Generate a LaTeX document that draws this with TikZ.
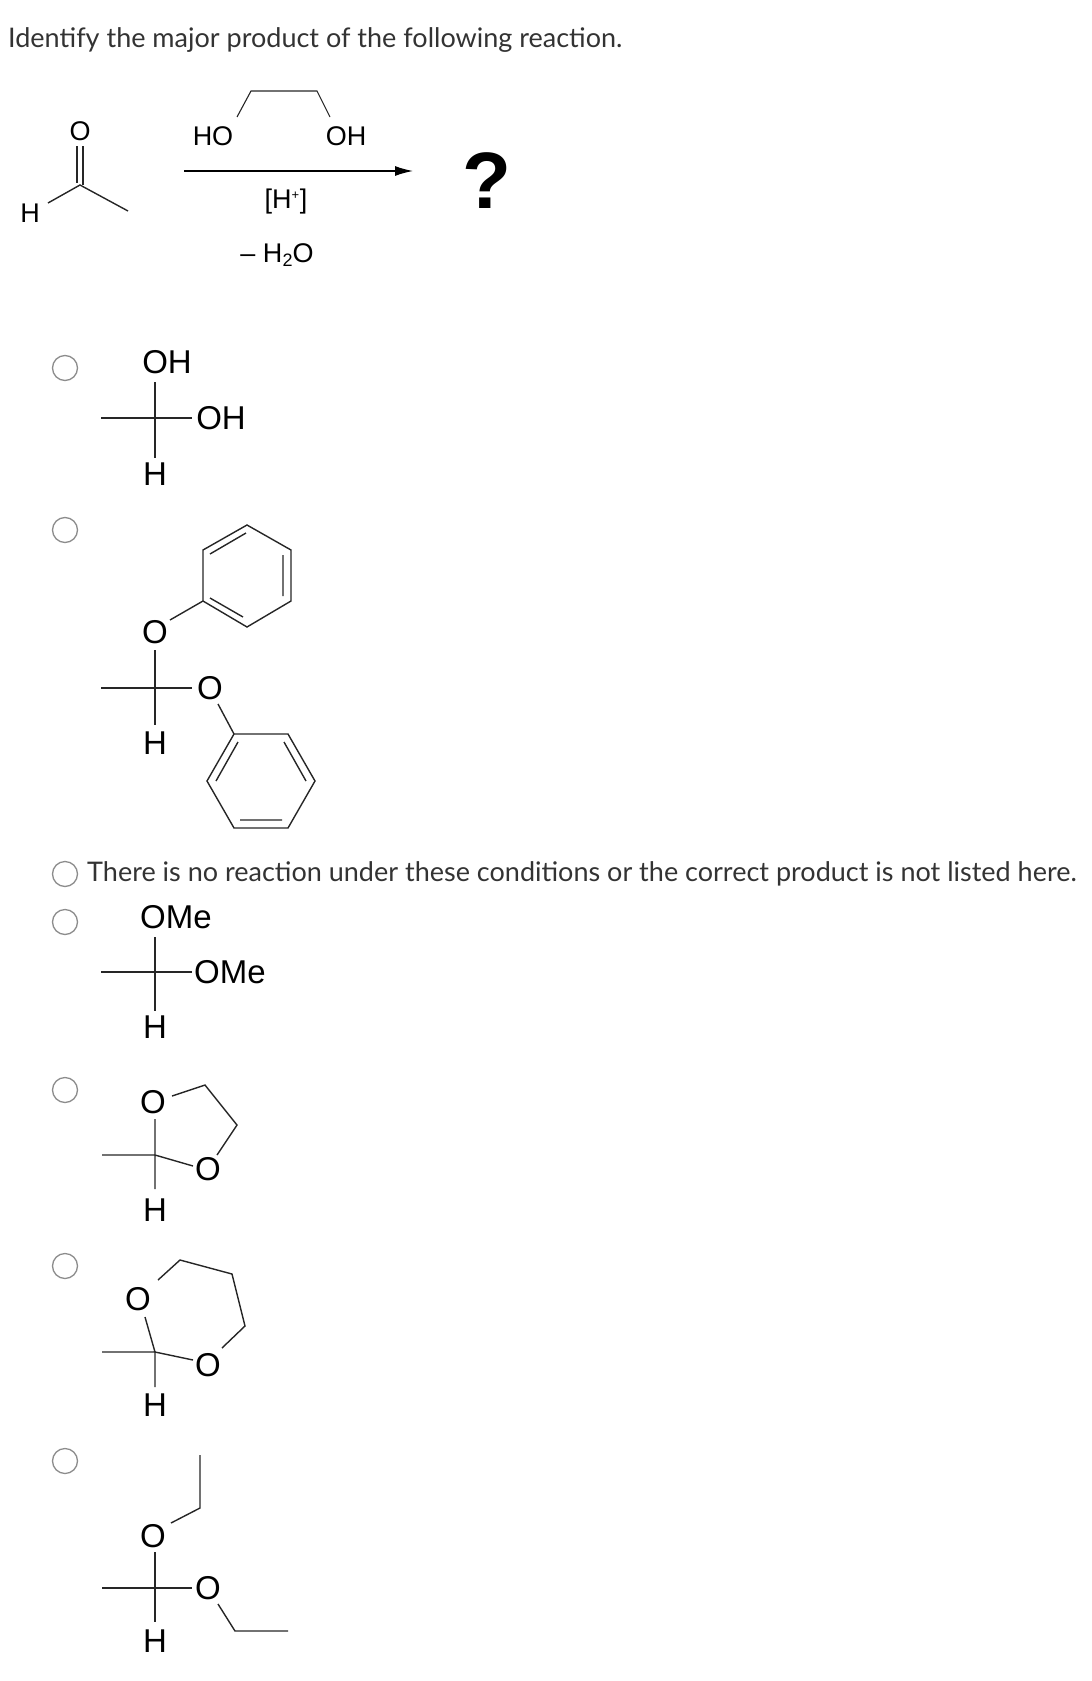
\documentclass[tikz,border=0pt]{standalone}
\usepackage{fontspec}
\usetikzlibrary{arrows.meta}
\setmainfont{Lato}
\newfontfamily\chem{Liberation Sans}
\begin{document}
\begin{tikzpicture}[x=1pt,y=-1pt,
 bond/.style={line width=1.4pt,black!85},
 lab/.style={inner sep=0pt,font=\chem\fontsize{27}{27}\selectfont},
 olab/.style={inner sep=0pt,font=\chem\fontsize{33}{33}\selectfont},
 radio/.style={circle,draw=black!45,line width=1.3pt,minimum size=25pt,inner sep=0pt},
 qtext/.style={inner sep=0pt,anchor=west,text=black!80,font=\fontsize{27}{27}\selectfont}]
\useasboundingbox (0,0) rectangle (1092,1681);
% header
\node[qtext] (q) at (8,40) {Identify the major product of the following reaction.};
% aldehyde
\node[lab] (ao) at (80,131) {O};
\node[lab] (ah) at (30,213) {H};
\draw[bond] (77,146)--(77,183) (83,146)--(83,185);
\draw[bond] (48,203)--(80,185)--(128,211);
% diol
\node[lab] (ho) at (213,136) {HO};
\node[lab] (oh) at (346,136) {OH};
\draw[bond,line width=1.1pt] (237,117)--(251,91)--(317,91)--(330,117);
\draw[line width=1.4pt,-{Latex[length=18pt,width=10pt]}] (184,171)--(413,171);
\node[lab] (hp) at (286,202) {[H$^{\mbox{\fontsize{13}{13}\selectfont+}}$]};
\node[lab] (wa) at (277,255) {\textendash\ H\raisebox{-4pt}{\fontsize{18}{18}\selectfont 2}O};
\node[inner sep=0pt,font=\chem\bfseries\fontsize{80}{80}\selectfont] (qm) at (487,181) {?};
% radio buttons
\foreach \n/\yy in {r1/368,r2/530,r3/874,r4/922,r5/1090,r6/1266,r7/1461}
  \node[radio] (\n) at (65,\yy) {};
% option 1
\node[olab] at (167,362) {OH};
\node[olab] at (221,418) {OH};
\node[olab] at (155,474) {H};
\draw[bond] (155,382)--(155,458) (101,418)--(192,418);
% option 2
\node[olab] at (155,632) {O};
\node[olab] at (210,688) {O};
\node[olab] at (155,743) {H};
\draw[bond] (155,650)--(155,725) (101,688)--(192,688);
\draw[bond] (170,620)--(203,601);
\draw[bond] (247,525)--(291,550)--(291,601)--(247,627)--(203,601)--(203,550)--cycle;
\draw[bond] (283,555)--(283,596) (243,617)--(210,598) (210,554)--(246,533);
\draw[bond] (218,704)--(234,734);
\draw[bond] (315,781)--(288,734)--(234,734)--(207,781)--(234,828)--(288,828)--cycle;
\draw[bond] (240,820)--(282,820) (216,781)--(238,742) (284,742)--(306,781);
% option 3
\node[qtext] at (87,874) {There is no reaction under these conditions or the correct product is not listed here.};
% option 4
\node[olab] at (176,917) {OMe};
\node[olab,anchor=west] at (194,972) {OMe};
\node[olab] at (155,1027) {H};
\draw[bond] (155,937)--(155,1011) (101,972)--(192,972);
% option 5
\node[olab] at (153,1102) {O};
\node[olab] at (208,1169) {O};
\node[olab] at (155,1210) {H};
\draw[bond] (155,1119)--(155,1189) (102,1155)--(155,1155)--(193,1166);
\draw[bond] (172,1096)--(205,1085)--(237,1125)--(217,1155);
% option 6
\node[olab] at (138,1299) {O};
\node[olab] at (208,1365) {O};
\node[olab] at (155,1405) {H};
\draw[bond] (145,1317)--(155,1352)--(155,1387) (102,1352)--(155,1352)--(193,1360);
\draw[bond] (158,1280)--(180,1260)--(232,1274)--(245,1326)--(222,1348);
% option 7
\node[olab] at (153,1536) {O};
\node[olab] at (208,1588) {O};
\node[olab] at (155,1641) {H};
\draw[bond] (155,1552)--(155,1622) (102,1588)--(192,1588);
\draw[bond] (200,1455)--(200,1508)--(171,1523);
\draw[bond] (218,1604)--(235,1631)--(288,1631);
\end{tikzpicture}
\end{document}
